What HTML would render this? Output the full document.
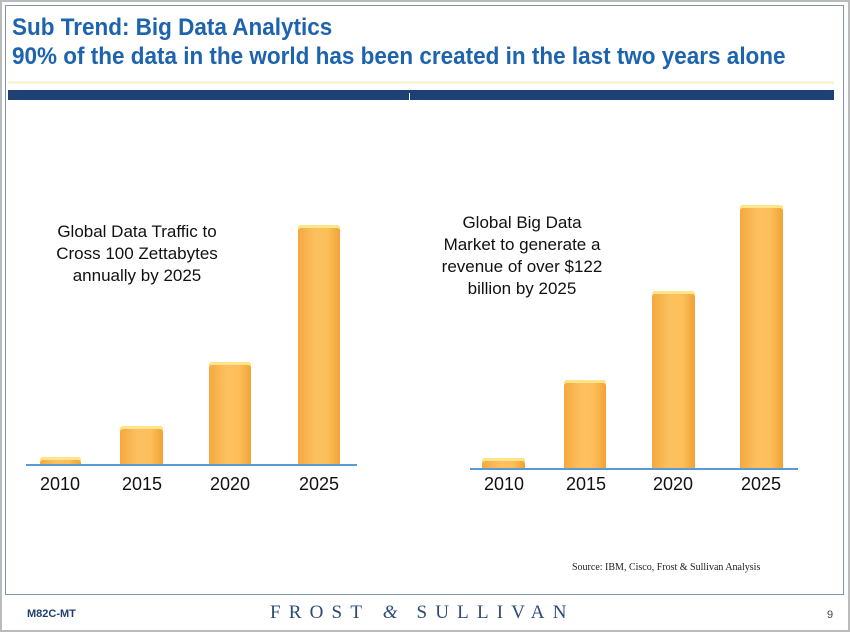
<!DOCTYPE html>
<html><head><meta charset="utf-8"><style>
body{margin:0;width:850px;height:632px;background:#fff;position:relative;overflow:hidden;font-family:"Liberation Sans",sans-serif}
.a{position:absolute}
.bar{position:absolute;background:linear-gradient(90deg,#f4a93e 0%,#fcc060 40%,#fdbf5a 70%,#f0a337 100%);border-radius:3px 3px 0 0;box-shadow:inset 0 3px 0 #fde58a}
.yr{position:absolute;font-size:18px;color:#111;width:60px;text-align:center;margin-left:-30px;top:474px}
.txt{position:absolute;font-size:17px;color:#111;text-align:center;line-height:22px}
.t{position:absolute;left:12px;color:#1d63ad;font-weight:bold;font-size:24px;white-space:nowrap;transform-origin:0 0}
</style></head><body>
<div class="a" style="left:0;top:0;width:846px;height:628px;border:2px solid #bbb"></div>
<div class="a" style="left:5px;top:5px;width:837px;height:588px;border:1px solid #7f95ad"></div>
<div class="t" style="top:14px;transform:scaleX(0.937)">Sub Trend: Big Data Analytics</div>
<div class="t" style="top:43px;transform:scaleX(0.937)">90% of the data in the world has been created in the last two years alone</div>
<div class="a" style="left:8px;top:81px;width:826px;height:3px;background:#f8f4d8"></div>
<div class="a" style="left:8px;top:90px;width:826px;height:10px;background:#1f4074"></div>
<div class="a" style="left:409px;top:93px;width:1px;height:7px;background:#fff"></div>

<div class="txt" style="left:37px;top:221px;width:200px">Global Data Traffic to<br>Cross 100 Zettabytes<br>annually by 2025</div>
<div class="bar" style="left:40px;top:457px;width:41px;height:8px"></div>
<div class="bar" style="left:120px;top:426px;width:43px;height:39px"></div>
<div class="bar" style="left:209px;top:362px;width:42px;height:103px"></div>
<div class="bar" style="left:298px;top:225px;width:42px;height:240px"></div>
<div class="a" style="left:26px;top:464px;width:331px;height:2px;background:#5b9bd5"></div>
<div class="yr" style="left:60px">2010</div><div class="yr" style="left:142px">2015</div><div class="yr" style="left:230px">2020</div><div class="yr" style="left:319px">2025</div>

<div class="txt" style="left:422px;top:212px;width:200px">Global Big Data<br>Market to generate a<br>revenue of over $122<br>billion by 2025</div>
<div class="bar" style="left:482px;top:458px;width:43px;height:11px"></div>
<div class="bar" style="left:564px;top:380px;width:42px;height:89px"></div>
<div class="bar" style="left:652px;top:291px;width:43px;height:178px"></div>
<div class="bar" style="left:740px;top:205px;width:43px;height:264px"></div>
<div class="a" style="left:470px;top:468px;width:328px;height:2px;background:#5b9bd5"></div>
<div class="yr" style="left:504px">2010</div><div class="yr" style="left:586px">2015</div><div class="yr" style="left:673px">2020</div><div class="yr" style="left:761px">2025</div>

<div class="a" style="left:572px;top:562px;font-family:'Liberation Serif',serif;font-size:10px;color:#222">Source: IBM, Cisco, Frost &amp; Sullivan Analysis</div>
<div class="a" style="left:27px;top:608px;font-size:11px;font-weight:bold;color:#1f3f73">M82C-MT</div>
<div class="a" style="left:270px;top:602px;font-family:'Liberation Serif',serif;font-size:19px;letter-spacing:8.2px;color:#2b4a78">FROST <i style="letter-spacing:6px">&amp;</i> SULLIVAN</div>
<div class="a" style="left:827px;top:609px;font-size:11px;color:#444">9</div>
</body></html>
